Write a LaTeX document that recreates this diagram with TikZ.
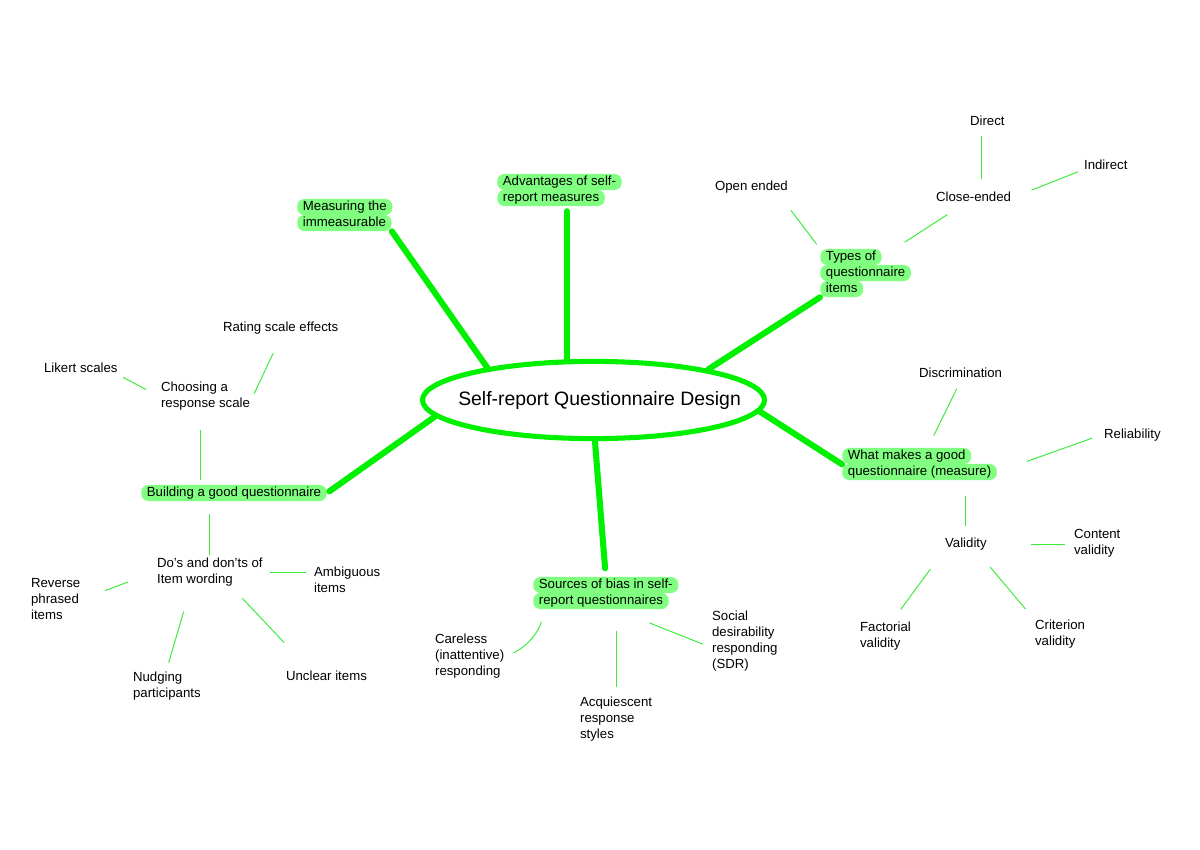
\documentclass[tikz,border=0pt]{standalone}
\usepackage{fontspec}
\setmainfont{Liberation Sans}
\usetikzlibrary{shapes.geometric}
\definecolor{branchgreen}{RGB}{0,240,0}
\definecolor{twiggreen}{RGB}{60,235,60}
\definecolor{hlgreen}{RGB}{128,255,128}

\begin{document}
\begin{tikzpicture}[x=0.025cm,y=-0.025cm,font=\fontsize{9.4}{11.4}\selectfont,
  leaf/.style={anchor=west,align=left,inner sep=2pt},
  topic/.style={anchor=west,fill=hlgreen,rounded corners=5pt,inner xsep=4pt,inner ysep=1.1pt,text height=7pt,text depth=2.2pt},
  branch/.style={draw=branchgreen,line width=4.3pt,line cap=round},
  twig/.style={draw=twiggreen,line width=0.7pt}]
\useasboundingbox (0,0) rectangle (1200,849);

\node[ellipse,draw=branchgreen,line width=3.6pt,minimum width=8.55cm,minimum height=1.93cm,inner sep=0pt,
  font=\fontsize{13.8}{16}\selectfont] (core) at (593.5,400) {\makebox[0pt]{\hspace{8.6pt}Self-report Questionnaire Design}};

\foreach \txt [count=\i] in {Measuring the,immeasurable}
  \node[topic] (meas\i) at (297,191+16*\i) {\txt};
\foreach \txt [count=\i] in {Advantages of self-,report measures}
  \node[topic] (adv\i) at (497,166+16*\i) {\txt};
\foreach \txt [count=\i] in {Types of,questionnaire,items}
  \node[topic] (types\i) at (820,241+16*\i) {\txt};
\foreach \txt [count=\i] in {What makes a good,questionnaire (measure)}
  \node[topic] (what\i) at (842,440+16*\i) {\txt};
\foreach \txt [count=\i] in {Sources of bias in self-,report questionnaires}
  \node[topic] (src\i) at (533,569+16*\i) {\txt};
\node[topic] (build) at (141,493) {Building a good questionnaire};

\node[leaf] (rating) at (220,328) {Rating scale effects};
\node[leaf] (likert) at (41,368) {Likert scales};
\node[leaf] (choose) at (158,396) {Choosing a\\response scale};
\node[leaf] (dos) at (154,572) {Do's and don'ts of\\Item wording};
\node[leaf] (amb) at (311,580) {Ambiguous\\items};
\node[leaf] (rev) at (28,599) {Reverse\\phrased\\items};
\node[leaf] (nudge) at (130,686) {Nudging\\participants};
\node[leaf] (unclear) at (283,676) {Unclear items};
\node[leaf] (careless) at (432,656) {Careless\\(inattentive)\\responding};
\node[leaf] (acq) at (577,719) {Acquiescent\\response\\styles};
\node[leaf] (social) at (709,641) {Social\\desirability\\responding\\(SDR)};
\node[leaf] (disc) at (916,373) {Discrimination};
\node[leaf] (rel) at (1101,435) {Reliability};
\node[leaf] (valid) at (942,544) {Validity};
\node[leaf] (content) at (1071,543) {Content\\validity};
\node[leaf] (fact) at (857,636) {Factorial\\validity};
\node[leaf] (crit) at (1032,634) {Criterion\\validity};
\node[leaf] (open) at (712,187) {Open ended};
\node[leaf] (close) at (933,197) {Close-ended};
\node[leaf] (direct) at (967,121) {Direct};
\node[leaf] (indirect) at (1081,165) {Indirect};

\draw[branch] (core.163) -- (meas2.south east);
\draw[branch,shorten >=3.5pt] (core.123) -- (core.123 |- adv2.south);
\draw[branch] (core.15) -- (types3.south west);
\draw[branch] (core.356) -- (what1.south west);
\draw[branch,shorten >=6pt] (core.272) -- (src1.north);
\draw[branch,shorten >=2pt] (core.186) -- (build.east);

\draw[twig,shorten <=2pt,shorten >=12.5pt] (choose.east) -- (rating.south);
\draw[twig,shorten <=2pt,shorten >=9.6pt] (likert.south east) -- (choose.west);
\draw[twig,shorten <=12pt,shorten >=3.5pt] (choose.255) -- (choose.255 |- build.north);
\draw[twig,shorten <=9pt] (build.south -| dos.north) -- (dos.north);
\draw[twig,shorten <=3pt,shorten >=3.5pt] (dos.east) -- (dos.east -| amb.west);
\draw[twig,shorten <=20pt,shorten >=16.7pt] (dos.west) -- (rev.east);
\draw[twig,shorten <=16.6pt,shorten >=4.5pt] ([xshift=-14pt]dos.south) -- (nudge.north);
\draw[twig,shorten <=8.8pt,shorten >=25pt] ([xshift=17pt]dos.south) -- ([xshift=-13pt]unclear.north);
\draw[twig,shorten <=9pt,shorten >=5pt] ([xshift=8pt]src2.south west) to[bend left=25] (careless.east);
\draw[twig,shorten <=15.6pt,shorten >=4.6pt] (acq.north |- src2.south) -- (acq.north);
\draw[twig,shorten <=26pt,shorten >=4.6pt] (src2.330) -- ([yshift=-4pt]social.west);
\draw[twig,shorten <=9.6pt,shorten >=6.4pt] ([xshift=15pt]what1.north) -- (disc.south);
\draw[twig,shorten <=22.5pt,shorten >=6.7pt] (what2.east) -- (rel.west);
\draw[twig,shorten <=11.4pt,shorten >=6.4pt] (valid.north |- what2.south) -- (valid.north);
\draw[twig,shorten <=29pt,shorten >=4.3pt] (valid.east) -- (valid.east -| content.west);
\draw[twig,shorten <=14pt,shorten >=8.3pt] (valid.south west) -- ([xshift=6pt]fact.north);
\draw[twig,shorten <=12.8pt,shorten >=7.3pt] ([xshift=-8pt]valid.south east) -- (crit.north west);
\draw[twig,shorten <=4pt] (types1.north west) -- ([yshift=-10pt]open.south east);
\draw[twig,shorten <=19.4pt,shorten >=12.6pt] (types1.east) -- ([xshift=-8pt]close.south);
\draw[twig,shorten <=5pt,shorten >=7pt] (direct.235) -- (direct.235 |- close.north);
\draw[twig,shorten <=13.3pt,shorten >=2.3pt] (close.east) -- ([yshift=-4pt]indirect.west);
\end{tikzpicture}
\end{document}
